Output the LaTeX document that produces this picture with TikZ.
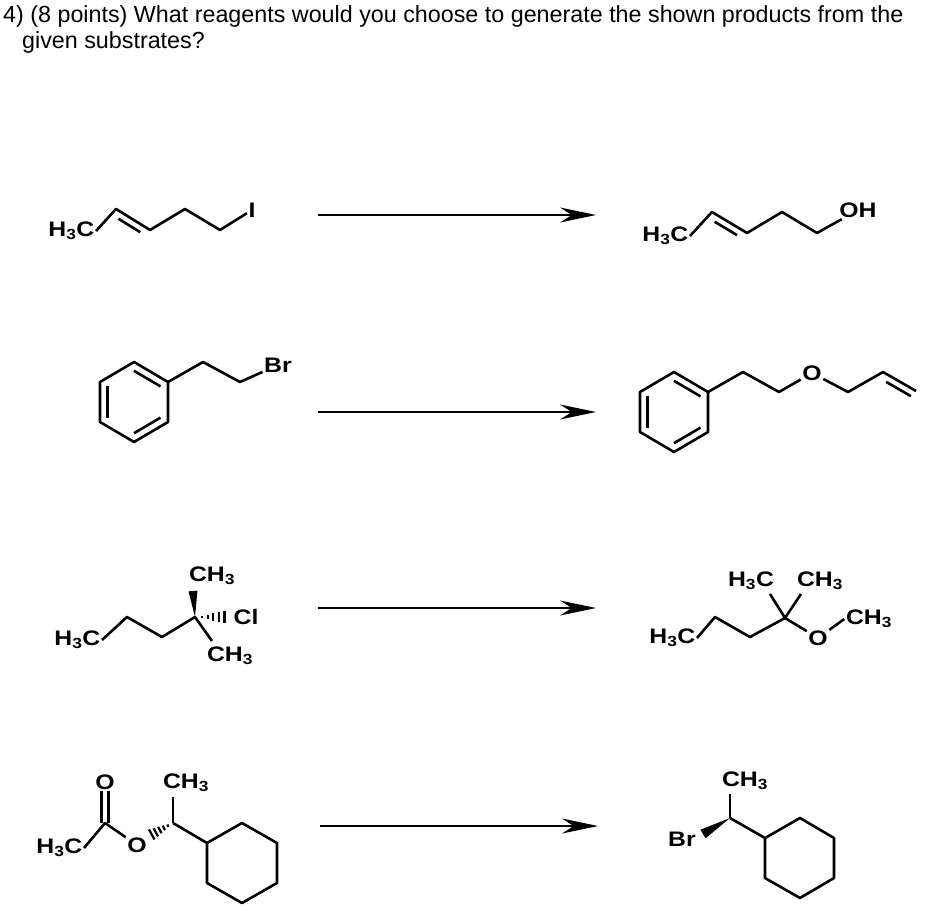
\documentclass[tikz,border=0pt]{standalone}
\usepackage{fontspec}
\setmainfont{Liberation Sans}
\newfontfamily\atomfont[FakeStretch=1.18]{Liberation Sans}
\usetikzlibrary{calc,arrows.meta}
\newcommand\hashbond[4]{% x,y (narrow), angle, length
  \begin{scope}[shift={(#1,#2)},rotate=#3]
    \foreach \t in {0.25,0.45,0.65,0.85,1.05}
      \draw[line width=2.2pt] ({\t*#4},{-\t*5.5}) -- ({\t*#4},{\t*5.5});
  \end{scope}}
\begin{document}
\begin{tikzpicture}[x=1pt,y=-1pt,
  bond/.style={line width=2.6pt},
  atom/.style={inner sep=1.5pt,font=\atomfont\bfseries\fontsize{21}{21}\selectfont},
  rxn/.style={line width=1.6pt,-{Stealth[length=36pt,width=15pt]}}]
\useasboundingbox (0,0) rectangle (939,910);
\node[anchor=base west,font=\fontsize{23.3}{26}\selectfont,inner sep=0] (t1) at (3,23) {4) (8 points) What reagents would you choose to generate the shown products from the};
\node[anchor=base west,font=\fontsize{23.3}{26}\selectfont,inner sep=0] (t2) at (22,48) {given substrates?};

% ---------- row 1 substrate
\node[atom,anchor=east] (a1) at (96,231) {H\textsubscript{3}C};
\coordinate (a2) at (116,209);
\coordinate (a3) at (150,230);
\coordinate (a4) at (185,209);
\coordinate (a5) at (220,230);
\node[atom] (a6) at (252,210) {I};
\draw[bond,line join=round] (a1.east) -- (a2) -- (a3) -- (a4) -- (a5) -- (a6);
\draw[bond] ($(a2)!0.18!(a3)!7pt!-90:(a3)$) -- ($(a3)!0.18!(a2)!7pt!90:(a2)$);
% ---------- row 1 product
\node[atom,anchor=east] (b1) at (690,236) {H\textsubscript{3}C};
\coordinate (b2) at (712,212);
\coordinate (b3) at (747,233);
\coordinate (b4) at (782,212);
\coordinate (b5) at (817,233);
\node[atom] (b6) at (858,210) {OH};
\draw[bond,line join=round] (b1.east) -- (b2) -- (b3) -- (b4) -- (b5) -- (b6);
\draw[bond] ($(b2)!0.18!(b3)!7pt!-90:(b3)$) -- ($(b3)!0.18!(b2)!7pt!90:(b2)$);

% ---------- row 2 substrate
\coordinate (c0) at (134,402);
\coordinate (c1) at (134,362);
\coordinate (c2) at (168,382);
\coordinate (c3) at (168,422);
\coordinate (c4) at (134,442);
\coordinate (c5) at (100,422);
\coordinate (c6) at (100,382);
\draw[bond,line join=round] (c1) -- (c2) -- (c3) -- (c4) -- (c5) -- (c6) -- cycle;
\draw[bond] ($(c0)!0.78!(c1)$) -- ($(c0)!0.78!(c2)$);
\draw[bond] ($(c0)!0.78!(c3)$) -- ($(c0)!0.78!(c4)$);
\draw[bond] ($(c0)!0.78!(c5)$) -- ($(c0)!0.78!(c6)$);
\coordinate (c7) at (203,362);
\coordinate (c8) at (240,382);
\node[atom] (c9) at (278,365) {Br};
\draw[bond,line join=round] (c2) -- (c7) -- (c8) -- (c9);

% ---------- row 2 product
\coordinate (d0) at (674,412);
\coordinate (d1) at (674,372);
\coordinate (d2) at (708,392);
\coordinate (d3) at (708,432);
\coordinate (d4) at (674,452);
\coordinate (d5) at (640,432);
\coordinate (d6) at (640,392);
\draw[bond,line join=round] (d1) -- (d2) -- (d3) -- (d4) -- (d5) -- (d6) -- cycle;
\draw[bond] ($(d0)!0.78!(d1)$) -- ($(d0)!0.78!(d2)$);
\draw[bond] ($(d0)!0.78!(d3)$) -- ($(d0)!0.78!(d4)$);
\draw[bond] ($(d0)!0.78!(d5)$) -- ($(d0)!0.78!(d6)$);
\coordinate (d7) at (743,372);
\coordinate (d8) at (779,392);
\node[atom] (d9) at (812,373) {O};
\coordinate (d10) at (848,392);
\coordinate (d11) at (883,372);
\coordinate (d12) at (916,391);
\draw[bond,line join=round] (d2) -- (d7) -- (d8) -- (d9) -- (d10) -- (d11) -- (d12);
\draw[bond] ($(d11)!0.2!(d12)!7pt!-90:(d12)$) -- ($(d12)!0.05!(d11)!7pt!90:(d11)$);

% ---------- row 3 substrate
\node[atom,anchor=east] (e1) at (102,640) {H\textsubscript{3}C};
\coordinate (e2) at (127,617);
\coordinate (e3) at (162,637);
\coordinate (e4) at (195,617);
\node[atom] (e5) at (212,576) {CH\textsubscript{3}};
\node[atom] (e6) at (246,617) {Cl};
\node[atom] (e7) at (230,656) {CH\textsubscript{3}};
\coordinate (e8) at (193,591);
\draw[bond,line join=round] (e1.east) -- (e2) -- (e3) -- (e4) -- (212,641);
\fill (e4) -- ($(e8)!4.5pt!90:(e4)$) -- ($(e8)!4.5pt!-90:(e4)$) -- cycle;
\hashbond{195}{617}{0}{28}

% ---------- row 3 product
\node[atom,anchor=east] (f1) at (697,638) {H\textsubscript{3}C};
\coordinate (f2) at (715,617);
\coordinate (f3) at (750,637);
\coordinate (f4) at (785,618);
\node[atom] (f5) at (751,581) {H\textsubscript{3}C};
\node[atom] (f6) at (820,581) {CH\textsubscript{3}};
\node[atom] (f7) at (818,638) {O};
\node[atom] (f8) at (869,619) {CH\textsubscript{3}};
\draw[bond,line join=round] (f1.east) -- (f2) -- (f3) -- (f4) -- (770,594);
\draw[bond] (f4) -- (801,594);
\draw[bond] (f4) -- (f7) -- (f8.west);

% ---------- row 4 substrate
\node[atom,anchor=east] (g1) at (84,848) {H\textsubscript{3}C};
\coordinate (g2) at (105,823);
\node[atom] (g3) at (105,782) {O};
\node[atom] (g4) at (137,845) {O};
\coordinate (g5) at (173,823);
\node[atom] (g6) at (186,783) {CH\textsubscript{3}};
\draw[bond,line join=round] (g1.east) -- (g2) -- (g4);
\draw[bond] ($(g2)+(-3.5,0)$) -- ($(g3.south)+(-3.5,0)$);
\draw[bond] ($(g2)+(3.5,0)$) -- ($(g3.south)+(3.5,0)$);
\draw[bond] (g5) -- (173,797);
\hashbond{173}{823}{208.3}{23}
\coordinate (h1) at (207,843);
\coordinate (h2) at (242,823);
\coordinate (h3) at (277,843);
\coordinate (h4) at (277,883);
\coordinate (h5) at (242,903);
\coordinate (h6) at (207,883);
\draw[bond] (g5) -- (h1);
\draw[bond,line join=round] (h1) -- (h2) -- (h3) -- (h4) -- (h5) -- (h6) -- cycle;

% ---------- row 4 product
\coordinate (k1) at (730,818);
\node[atom] (k2) at (745,781) {CH\textsubscript{3}};
\node[atom] (k3) at (682,839) {Br};
\coordinate (k4) at (703,834);
\draw[bond] (k1) -- (730,794);
\fill (k1) -- ($(k4)!5pt!90:(k1)$) -- ($(k4)!5pt!-90:(k1)$) -- cycle;
\coordinate (m1) at (765,838);
\coordinate (m2) at (800,818);
\coordinate (m3) at (834,838);
\coordinate (m4) at (834,878);
\coordinate (m5) at (800,898);
\coordinate (m6) at (765,878);
\draw[bond] (k1) -- (m1);
\draw[bond,line join=round] (m1) -- (m2) -- (m3) -- (m4) -- (m5) -- (m6) -- cycle;

% ---------- arrows
\coordinate (r1a) at (318,215); \coordinate (r1b) at (596,215);
\coordinate (r2a) at (318,412); \coordinate (r2b) at (596,412);
\coordinate (r3a) at (318,608); \coordinate (r3b) at (596,608);
\coordinate (r4a) at (320,826); \coordinate (r4b) at (598,826);
\draw[rxn] (r1a) -- (r1b);
\draw[rxn] (r2a) -- (r2b);
\draw[rxn] (r3a) -- (r3b);
\draw[rxn] (r4a) -- (r4b);
\end{tikzpicture}
\end{document}
